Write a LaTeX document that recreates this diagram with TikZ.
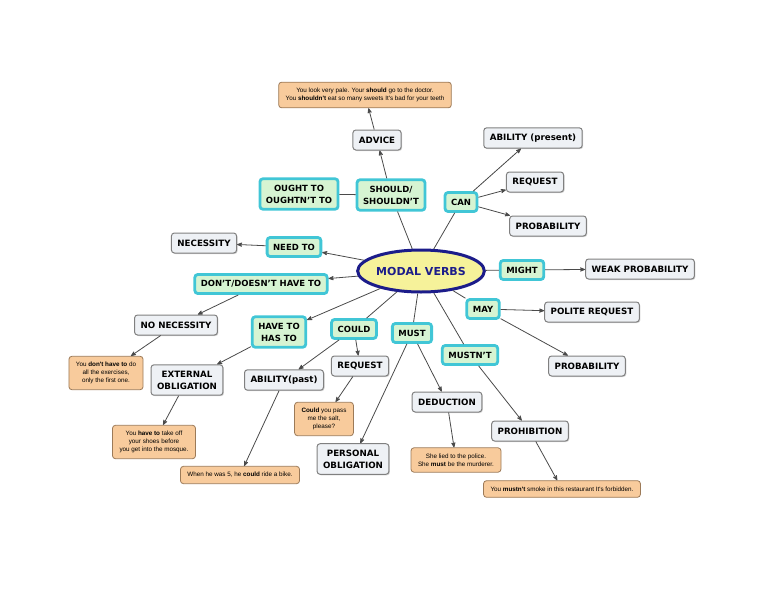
\documentclass[tikz,border=0pt]{standalone}
\usepackage{fontspec}
\setmainfont{DejaVu Sans}
\newfontfamily\examplefont{Liberation Sans}
\usepackage{xcolor}
\usetikzlibrary{arrows,shapes,shadows}

\definecolor{navy}{HTML}{1C1C8A}
\definecolor{lemon}{HTML}{F6F29A}
\definecolor{turquoise}{HTML}{41C6D6}
\definecolor{mint}{HTML}{D6F4D2}
\definecolor{paper}{HTML}{EEF1F5}
\definecolor{peach}{HTML}{F8CB9C}
\definecolor{bark}{HTML}{9C7A58}
\definecolor{wire}{HTML}{4A4A4A}

\begin{document}
\begin{tikzpicture}[->,>=stealth',shorten >=0pt,thick,x=1pt,y=-1pt,
    every edge/.style={draw=wire},
    modal/.style={ellipse, draw=navy, line width=3pt, fill=lemon, text=navy,
        font=\bfseries\fontsize{11}{13}\selectfont, minimum width=111pt,
        minimum height=42pt, inner sep=0pt},
    verb/.style={rectangle, rounded corners=3pt, draw=turquoise, line width=2.8pt,
        fill=mint, font=\bfseries\fontsize{8.5}{12}\selectfont, align=center,
        inner xsep=6pt, inner ysep=6pt, minimum height=19pt},
    use/.style={rectangle, rounded corners=3pt, draw=gray, line width=1pt,
        fill=paper, font=\bfseries\fontsize{8.7}{12}\selectfont, align=center,
        inner xsep=6pt, inner ysep=6pt, minimum height=20pt,
        drop shadow={opacity=0.35,shadow xshift=1pt,shadow yshift=-1pt}},
    example/.style={rectangle, rounded corners=3pt, draw=bark, line width=0.8pt,
        fill=peach, font=\examplefont\fontsize{6.3}{7.8}\selectfont, align=center,
        inner xsep=7pt, inner ysep=6pt}]
		\useasboundingbox (0,0) rectangle (768,594);
		\begin{scope}
			\node [modal] (modal) at (421,271) {MODAL VERBS};
			\node [verb] (should) at (391,195) {SHOULD/\\SHOULDN'T};
			\node [verb] (ought) at (299,194) {OUGHT TO\\OUGHTN'T TO};
			\node [use] (advice) at (377,140) {ADVICE};
			\node [example] (advicex) at (365,95) {You look very pale. Your \textbf{should} go to the doctor.\\You \textbf{shouldn't} eat so many sweets It's bad for your teeth};
			\node [verb] (can) at (461,202) {CAN};
			\node [use] (abilitypres) at (533,138) {ABILITY (present)};
			\node [use] (canrequest) at (535,182) {REQUEST};
			\node [use] (canprob) at (548,226) {PROBABILITY};
			\node [verb] (need) at (294,247) {NEED TO};
			\node [use] (necessity) at (204,243) {NECESSITY};
			\node [verb] (might) at (522,270) {MIGHT};
			\node [use] (weak) at (640,269) {WEAK PROBABILITY};
			\node [verb] (dont) at (261,284) {DON'T/DOESN'T HAVE TO};
			\node [use] (nonec) at (176,325) {NO NECESSITY};
			\node [example] (dontx) at (106,373) {You \textbf{don't have to} do\\all the exercises,\\only the first one.};
			\node [verb] (have) at (279,332) {HAVE TO\\HAS TO};
			\node [use] (external) at (187,380) {EXTERNAL\\OBLIGATION};
			\node [example] (havex) at (154,442) {You \textbf{have to} take off\\your shoes before\\you get into the mosque.};
			\node [verb] (could) at (354,329) {COULD};
			\node [use] (abilitypast) at (284,380) {ABILITY(past)};
			\node [use] (couldrequest) at (360,366) {REQUEST};
			\node [example] (couldx) at (324,419) {\textbf{Could} you pass\\me the salt,\\please?};
			\node [example] (abilityx) at (240,475) {When he was 5, he \textbf{could} ride a bike.};
			\node [verb] (must) at (412,333) {MUST};
			\node [use] (personal) at (353,459) {PERSONAL\\OBLIGATION};
			\node [use] (deduction) at (447,402) {DEDUCTION};
			\node [example] (deductionx) at (456,460) {She lied to the police.\\She \textbf{must} be the murderer.};
			\node [verb] (mustnt) at (470,355) {MUSTN'T};
			\node [use] (prohibition) at (530,431) {PROHIBITION};
			\node [example] (prohibitionx) at (562,489) {You \textbf{mustn't} smoke in this restaurant It's forbidden.};
			\node [verb] (may) at (483,309) {MAY};
			\node [use] (polite) at (592,312) {POLITE REQUEST};
			\node [use] (mayprob) at (587,366) {PROBABILITY};

			\path (modal) edge [-] (should)
			      (ought) edge [-] (should)
			      (should) edge (advice)
			      (advice) edge (advicex)
			      (modal) edge [-] (can)
			      (can) edge (abilitypres)
			      (can) edge (canrequest)
			      (can) edge (canprob)
			      (modal) edge (need)
			      (need) edge (necessity)
			      (modal) edge [-] (might)
			      (might) edge (weak)
			      (modal) edge (dont)
			      (dont) edge (nonec)
			      (nonec) edge (dontx)
			      (modal) edge (have)
			      (have) edge (external)
			      (external) edge (havex)
			      (modal) edge [-] (could)
			      (could) edge (abilitypast)
			      (could) edge (couldrequest)
			      (abilitypast) edge (abilityx)
			      (couldrequest) edge (couldx)
			      (modal) edge [-] (must)
			      (must) edge (personal)
			      (must) edge (deduction)
			      (deduction) edge (deductionx)
			      (modal) edge [-] (mustnt)
			      (mustnt) edge (prohibition)
			      (prohibition) edge (prohibitionx)
			      (modal) edge [-] (may)
			      (may) edge (polite)
			      (may) edge (mayprob);
		\end{scope}
		\end{tikzpicture}
\end{document}
